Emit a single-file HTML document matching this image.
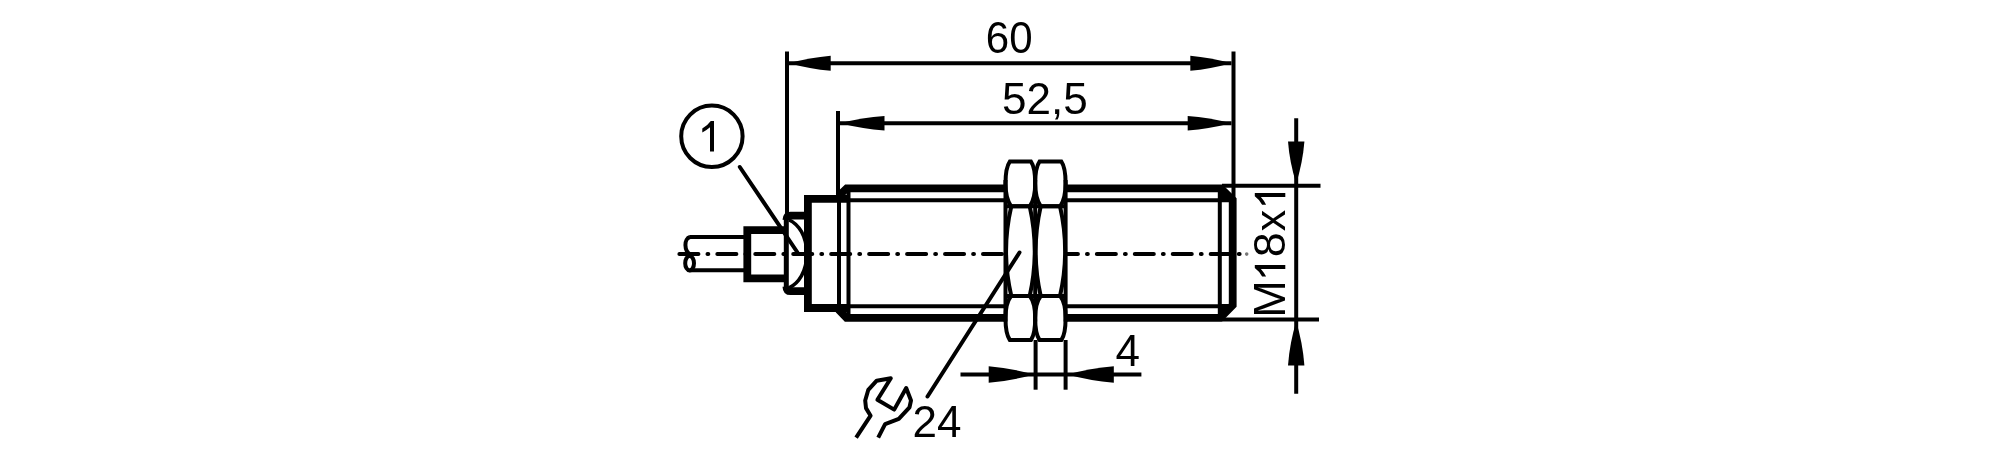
<!DOCTYPE html>
<html><head><meta charset="utf-8">
<style>
html,body{margin:0;padding:0;background:#fff;width:2000px;height:459px;overflow:hidden}
svg{display:block}
text{font-family:"Liberation Sans",sans-serif;font-size:44px;fill:#000}
.txt{opacity:0.999}
</style></head>
<body>
<svg width="2000" height="459" viewBox="0 0 2000 459">
<!-- centerline (under nuts) -->
<line x1="679.4" y1="254.1" x2="1246.5" y2="254.1" stroke="#000" stroke-width="4" stroke-linecap="round" stroke-dasharray="19 9.1 0.8 9.05"/>

<g fill="none" stroke="#000" stroke-width="4" stroke-linecap="butt">
  <!-- dimension 60 -->
  <line x1="787" y1="51.5" x2="787" y2="214"/>
  <line x1="1233.5" y1="51.5" x2="1233.5" y2="200"/>
  <line x1="789" y1="63.3" x2="1231.5" y2="63.3"/>
  <!-- dimension 52,5 -->
  <line x1="838" y1="111" x2="838" y2="196"/>
  <line x1="840" y1="123.3" x2="1231.5" y2="123.3"/>
  <!-- circle 1 -->
  <circle cx="711.9" cy="136.3" r="30.7"/>
  <line x1="739.8" y1="167" x2="797.5" y2="252.5" stroke-linecap="round"/>
  <!-- M18x1 -->
  <line x1="1296.2" y1="118.3" x2="1296.2" y2="393.7"/>
  <line x1="1222" y1="185.7" x2="1320.5" y2="185.7"/>
  <line x1="1222" y1="319.4" x2="1319" y2="319.4"/>
  <!-- dim 4 -->
  <line x1="1035.6" y1="340" x2="1035.6" y2="389.7"/>
  <line x1="1065.6" y1="340" x2="1065.6" y2="389.7"/>
  <line x1="960.5" y1="374.5" x2="1141.4" y2="374.5"/>
  <!-- cable -->
  <line x1="689.5" y1="237" x2="746" y2="237"/>
  <line x1="689.5" y1="270.2" x2="746" y2="270.2"/>
  <path d="M690,237 C684,238.5 683.5,251.5 691,254.5"/>
  <ellipse cx="689.6" cy="263.2" rx="4.4" ry="7.2"/>
  <!-- thread thin lines -->
  <line x1="848.5" y1="200.2" x2="1232" y2="200.2"/>
  <line x1="848.5" y1="306.2" x2="1232" y2="306.2"/>
  <line x1="848.5" y1="190" x2="848.5" y2="315"/>
  <line x1="1219.8" y1="190" x2="1219.8" y2="315"/>
  <line x1="839" y1="196" x2="839" y2="310"/>
  <!-- nut arc -->
  <path d="M789,219.8 C798.5,224 806.8,236 806.8,253.8 C806.8,271.5 798.5,283.5 789,287.8" stroke-width="3.6"/>
</g>
<!-- arrows -->
<g fill="#000" stroke="none">
  <path d="M789.20,63.30 Q809.95,69.05 830.70,70.80 L830.70,55.80 Q809.95,57.55 789.20,63.30 Z"/>
  <path d="M1230.80,63.30 Q1210.55,57.55 1190.30,55.80 L1190.30,70.80 Q1210.55,69.05 1230.80,63.30 Z"/>
  <path d="M840.20,123.30 Q862.35,128.90 884.50,130.50 L884.50,116.10 Q862.35,117.70 840.20,123.30 Z"/>
  <path d="M1230.80,123.30 Q1209.25,117.70 1187.70,116.10 L1187.70,130.50 Q1209.25,128.90 1230.80,123.30 Z"/>
  <path d="M1296.20,183.50 Q1302.80,162.55 1304.40,141.60 L1288.00,141.60 Q1289.60,162.55 1296.20,183.50 Z"/>
  <path d="M1296.20,321.50 Q1289.60,343.45 1288.00,365.40 L1304.40,365.40 Q1302.80,343.45 1296.20,321.50 Z"/>
  <path d="M1034.00,374.50 Q1011.35,368.15 988.70,366.20 L988.70,382.80 Q1011.35,380.85 1034.00,374.50 Z"/>
  <path d="M1067.30,374.50 Q1090.55,380.85 1113.80,382.80 L1113.80,366.20 Q1090.55,368.15 1067.30,374.50 Z"/>
</g>
<!-- thick outlines -->
<g fill="none" stroke="#000" stroke-width="7.8" stroke-linejoin="miter">
  <polyline points="785.7,230.2 747.3,230.2 747.3,278.4 785.7,278.4"/>
  <path d="M808.5,215.6 L790.5,215.6 Q786.6,215.6 786.4,220 M786.4,286.5 Q786.6,291.2 790.5,291.2 L808.5,291.2"/>
  <line x1="786.3" y1="218" x2="786.3" y2="288" stroke-width="5"/>
  <polyline points="848,198.8 807.9,198.8 807.9,308 848,308"/>
  <path d="M838.5,196.2 L846.7,188.3 L1220.9,188.3 L1232.7,199.9 L1232.7,305.2 L1220.2,317.8 L846.5,317.8 L838.5,309.6"/>
</g>
<polygon points="1219.8,192 1225,192 1232,199 1232,202 1219.8,202" fill="#000"/>
<polygon points="1219.8,304 1232,304 1220,316 1219.8,316" fill="#000"/>
<!-- wrench leader -->
<g fill="none" stroke="#000" stroke-width="4">
  <polyline stroke-linejoin="round" points="856.1,437.6 870.6,415.7 866,408.1 865.2,400.5 868.3,389.8 876.7,380.7 890.8,378.3 877.4,399.7 894.2,409.6 906.2,388 911,400.5 909.5,407.3 898.8,418.8 885.1,424.1 878.2,437.6"/>
</g>
<!-- hex nuts -->
<g fill="#fff" stroke="#000" stroke-width="4">
  <rect x="1005.5" y="206" width="60.1" height="90" stroke="none"/>
  <path d="M1009.8,161.6 L1031.0,161.6 C1033.8,165.5 1035.2,172.0 1035.2,183.5 C1035.2,195.0 1033.5,201.0 1029.8,206.3 L1011.1,206.3 C1007.4,201.0 1005.5,195.0 1005.5,183.5 C1005.5,172.0 1007.0,165.5 1009.8,161.6 Z"/>
  <path d="M1009.8,340.0 L1031.0,340.0 C1033.8,336.1 1035.2,329.6 1035.2,318.1 C1035.2,306.6 1033.5,300.6 1029.8,296.0 L1011.1,296.0 C1007.4,300.6 1005.5,306.6 1005.5,318.1 C1005.5,329.6 1007.0,336.1 1009.8,340.0 Z"/>
  <path d="M1039.5,161.6 L1061.4,161.6 C1064.2,165.5 1065.6,172.0 1065.6,183.5 C1065.6,195.0 1063.9,201.0 1060.2,206.3 L1040.8,206.3 C1037.1,201.0 1035.2,195.0 1035.2,183.5 C1035.2,172.0 1036.7,165.5 1039.5,161.6 Z"/>
  <path d="M1039.5,340.0 L1061.4,340.0 C1064.2,336.1 1065.6,329.6 1065.6,318.1 C1065.6,306.6 1063.9,300.6 1060.2,296.0 L1040.8,296.0 C1037.1,300.6 1035.2,306.6 1035.2,318.1 C1035.2,329.6 1036.7,336.1 1039.5,340.0 Z"/>
</g>
<g fill="none" stroke="#000" stroke-width="4">
  <line x1="1005.5" y1="180" x2="1005.5" y2="321.6"/>
  <line x1="1035.2" y1="180" x2="1035.2" y2="321.6"/>
  <line x1="1065.6" y1="180" x2="1065.6" y2="321.6"/>
  <line x1="1005.5" y1="206.3" x2="1065.6" y2="206.3"/>
  <line x1="1005.5" y1="296" x2="1065.6" y2="296"/>
</g>
<g fill="none" stroke="#000" stroke-width="4">
  <path d="M1011.3,206.3 Q1000.8,251.2 1011.3,296"/>
  <path d="M1029.7,206.3 Q1039.8,251.2 1029.7,296"/>
  <path d="M1040.7,206.3 Q1030.6,251.2 1040.7,296"/>
  <path d="M1060,206.3 Q1070.3,251.2 1060,296"/>
  <line x1="1019.5" y1="252.5" x2="927.5" y2="396.5" stroke-width="4" stroke-linecap="round"/>
</g>
<circle cx="1246.7" cy="254.1" r="1.8" fill="#777"/>
<!-- text -->
<g class="txt">
<text transform="translate(985.8,52.6) scale(0.955,1.02)">60</text>
<text x="1002.1" y="113.5">52,5</text>
<text x="1115.5" y="365.5">4</text>
<text x="912.6" y="436.7">24</text>
<g transform="translate(1285.3,317.8) rotate(-90)">
  <text x="0" y="0" style="font-size:45px">M</text>
  <text x="60.5" y="0" style="font-size:45px">8</text>
  <text x="86.6" y="0" style="font-size:43px">x</text>
</g>
<path d="M4,-30.5 L4,0 L0,0 L0,-24.4 Q-3.6,-21.2 -7.7,-19.2 L-7.7,-23.2 Q-2.2,-26.2 0.8,-30.5 Z" transform="translate(710,151.6)"/>
<path d="M4,-30.5 L4,0 L0,0 L0,-24.4 Q-3.6,-21.2 -7.7,-19.2 L-7.7,-23.2 Q-2.2,-26.2 0.8,-30.5 Z" transform="translate(1285.3,268.9) rotate(-90)"/>
<path d="M4,-30.5 L4,0 L0,0 L0,-24.4 Q-3.6,-21.2 -7.7,-19.2 L-7.7,-23.2 Q-2.2,-26.2 0.8,-30.5 Z" transform="translate(1285.3,197.1) rotate(-90)"/>
</g>
</svg>
</body></html>
